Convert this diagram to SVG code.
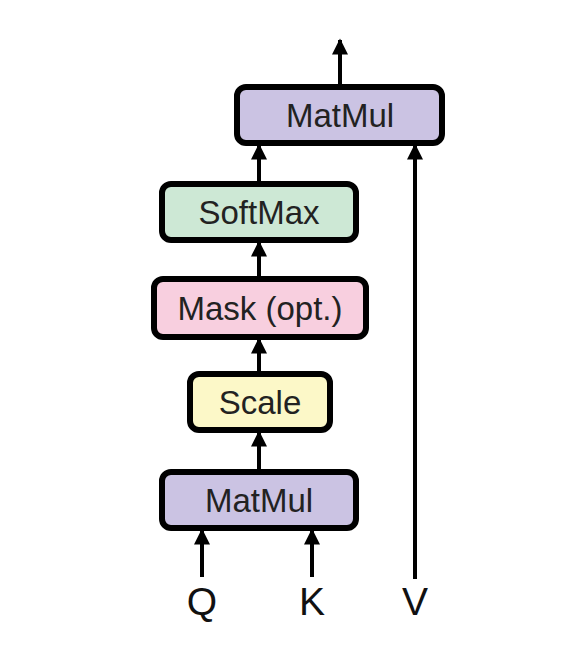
<svg xmlns="http://www.w3.org/2000/svg" width="574" height="646" viewBox="0 0 574 646">
<defs>
<marker id="ah" viewBox="0 0 10 10" refX="9" refY="5" markerWidth="4.4" markerHeight="4" orient="auto" markerUnits="strokeWidth">
<path d="M0,0 L10,5 L0,10 z" fill="#000"/>
</marker>
</defs>
<style>
.box{stroke:#000;stroke-width:6;}
.lbl{font-family:"Liberation Sans",Arial,sans-serif;font-size:33px;fill:#222;text-anchor:middle;}
.io{font-family:"Liberation Sans",Arial,sans-serif;font-size:39px;fill:#111;text-anchor:middle;}
.c{stroke:#000;stroke-width:4;fill:none;marker-end:url(#ah);}
</style>
<rect width="574" height="646" fill="#fff"/>
<g id="connectors">
<line class="c" x1="340" y1="85" x2="340" y2="40"/>
<line class="c" x1="259" y1="182" x2="259" y2="145"/>
<line class="c" x1="259" y1="277" x2="259" y2="242"/>
<line class="c" x1="259" y1="372" x2="259" y2="339"/>
<line class="c" x1="259" y1="470" x2="259" y2="432"/>
<line class="c" x1="202" y1="577" x2="202" y2="530"/>
<line class="c" x1="312" y1="577" x2="312" y2="530"/>
<line class="c" x1="415" y1="579" x2="415" y2="145"/>
</g>
<g id="matmul-top">
<rect class="box" x="237" y="87" width="205" height="56" rx="9" fill="#cbc3e3"/>
<text class="lbl" x="340" y="127">MatMul</text>
</g>
<g id="softmax">
<rect class="box" x="162" y="184" width="194" height="56" rx="9" fill="#cde8d5"/>
<text class="lbl" x="259" y="224">SoftMax</text>
</g>
<g id="mask">
<rect class="box" x="154" y="279" width="212" height="58" rx="9" fill="#f8cfdf"/>
<text class="lbl" x="260" y="320">Mask (opt.)</text>
</g>
<g id="scale">
<rect class="box" x="190" y="374" width="140" height="56" rx="9" fill="#fcf8c8"/>
<text class="lbl" x="260" y="414">Scale</text>
</g>
<g id="matmul-bottom">
<rect class="box" x="162" y="472" width="194" height="56" rx="9" fill="#cbc3e3"/>
<text class="lbl" x="259" y="512">MatMul</text>
</g>
<g id="inputs">
<text class="io" x="202" y="615">Q</text>
<text class="io" x="312" y="615">K</text>
<text class="io" x="415" y="615">V</text>
</g>
</svg>
